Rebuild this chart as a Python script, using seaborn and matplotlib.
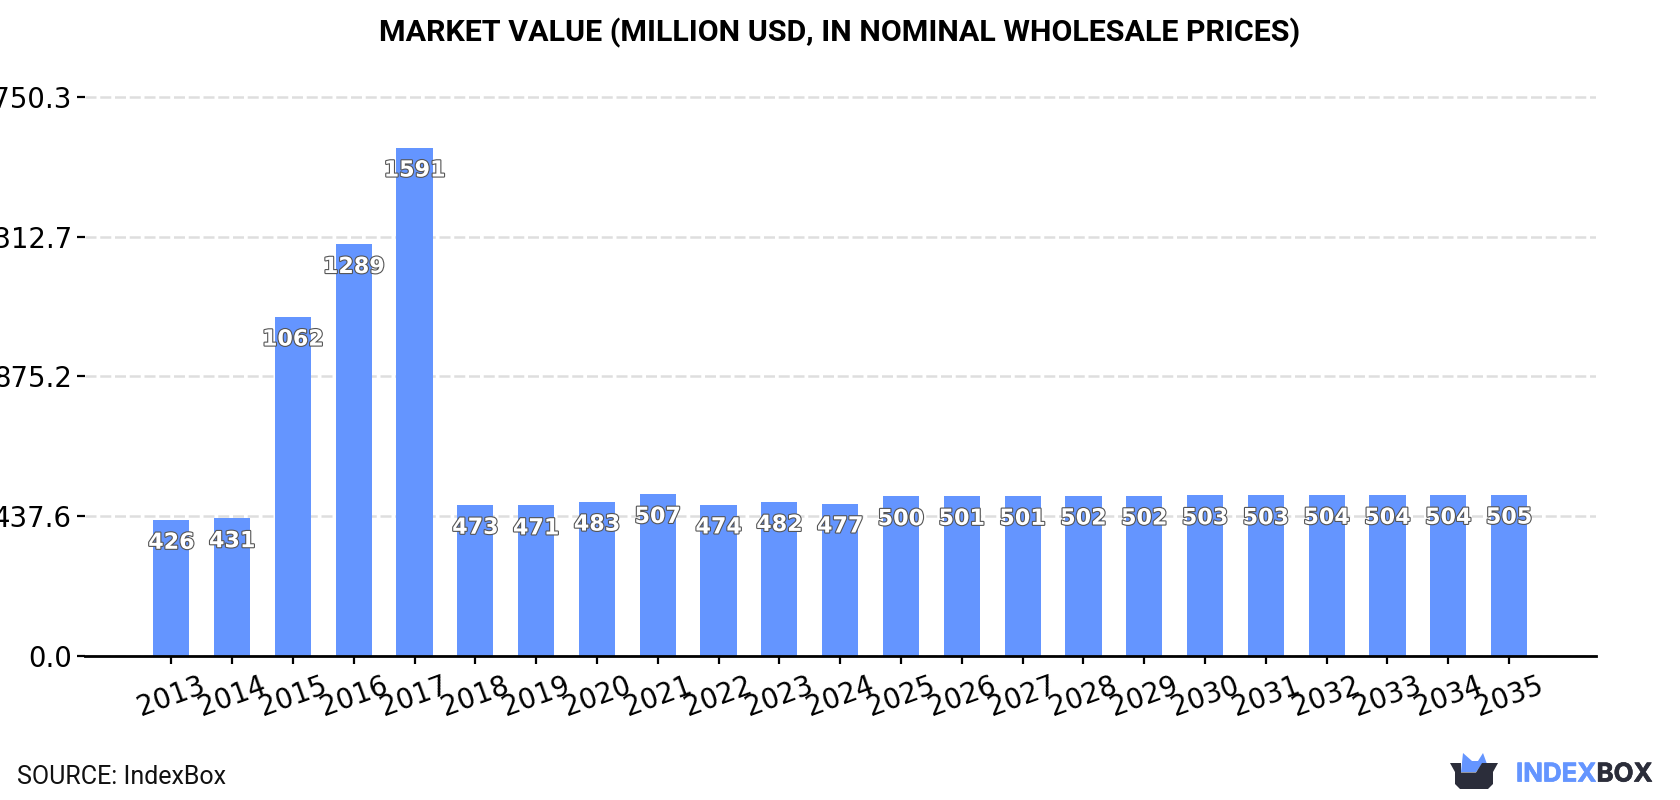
import matplotlib
matplotlib.use("Agg")
import matplotlib.pyplot as plt
import matplotlib.patheffects as pe
from matplotlib.patches import Polygon
import pandas as pd
import seaborn as sns

years = list(range(2013, 2036))
values = [426, 431, 1062, 1289, 1591, 473, 471, 483, 507, 474, 482, 477,
          500, 501, 501, 502, 502, 503, 503, 504, 504, 504, 505]
y_ticks = [0.0, 437.6, 875.2, 1312.7, 1750.3]
title_text = "MARKET VALUE (MILLION USD, IN NOMINAL WHOLESALE PRICES)"
source_text = "SOURCE: IndexBox"

BAR_BLUE = "#6495ff"
LOGO_DARK = "#2b2d3a"
W, H = 1680, 800

sns.set_theme(style="white")
plt.rcParams["font.family"] = ["DejaVu Sans"]

fig = plt.figure(figsize=(W / 100, H / 100), dpi=100, facecolor="white")
left, right, top, bottom = 85, 1596, 60, 656
ax = fig.add_axes([left / W, 1 - bottom / H, (right - left) / W, (bottom - top) / H])

frame = pd.DataFrame({"year": [str(y) for y in years], "value": values})
sns.barplot(data=frame, x="year", y="value", color=BAR_BLUE, saturation=1,
            width=0.595, linewidth=0, edgecolor="none", ax=ax, zorder=3)

ax.set_xlim(-1.42, 23.43)
ax.set_ylim(0, 1750.3 * (bottom - top) / (bottom - 96.7))
ax.set_xlabel("")
ax.set_ylabel("")
ax.set_yticks(y_ticks)
ax.set_yticklabels([f"{t:.1f}" for t in y_ticks])
ax.yaxis.grid(True, color="#dedede", linewidth=1.8, linestyle=(0, (4.4, 1.5)), zorder=0)
ax.xaxis.grid(False)
ax.set_axisbelow(True)
for side in ["top", "right", "left"]:
    ax.spines[side].set_visible(False)
ax.spines["bottom"].set_color("black")
ax.spines["bottom"].set_linewidth(2.0)
ax.spines["bottom"].set_zorder(6)
ax.tick_params(axis="y", length=6, width=1.6, color="black", labelsize=19.8,
               labelcolor="black", pad=3.5, left=True)
ax.tick_params(axis="x", length=6, width=1.6, color="black", labelsize=19.8,
               labelcolor="black", pad=5, bottom=True)
plt.setp(ax.get_xticklabels(), rotation=20, ha="center")

for i, v in enumerate(values):
    ax.annotate(str(v), (i, v), xytext=(0, -16.5), textcoords="offset points",
                ha="center", va="center", color="white", fontsize=16, fontweight="bold",
                zorder=5, path_effects=[pe.withStroke(linewidth=1.6, foreground="#555555")])

fig.text(0.5, 1 - 32.5 / H, title_text, ha="center", va="center", fontsize=21.9,
         fontweight="bold", family="Roboto", color="black")
fig.text(17 / W, 1 - 777 / H, source_text, ha="left", va="center", fontsize=18,
         family="Roboto", color="#111111")

# Brand mark in the lower right corner, laid out in pixel coordinates
logo = fig.add_axes([0, 0, 1, 1], facecolor="none")
logo.set_xlim(0, W)
logo.set_ylim(H, 0)
logo.axis("off")
logo.add_patch(Polygon([(1461, 772), (1463, 753), (1472, 761), (1478, 761), (1483, 753),
                        (1487, 764), (1482, 764), (1476, 772)],
                       closed=True, color=BAR_BLUE, lw=0))
logo.add_patch(Polygon([(1450, 763), (1461, 763), (1461, 772.5), (1476, 772.5), (1482, 763),
                        (1498, 763), (1493, 772), (1493, 784), (1488, 789), (1460, 789),
                        (1455, 784), (1455, 772)],
                       closed=True, color=LOGO_DARK, lw=0))
logo_stroke = [pe.withStroke(linewidth=0.5, foreground=BAR_BLUE)]
logo.text(1516, 775, "INDEX", ha="left", va="center", fontsize=18.6, fontweight="bold",
          family="Inter", color=BAR_BLUE, path_effects=logo_stroke)
logo.text(1596.5, 775, "BOX", ha="left", va="center", fontsize=18.6, fontweight="bold",
          family="Inter", color=LOGO_DARK,
          path_effects=[pe.withStroke(linewidth=0.5, foreground=LOGO_DARK)])

fig.savefig("out.png", dpi=100)
